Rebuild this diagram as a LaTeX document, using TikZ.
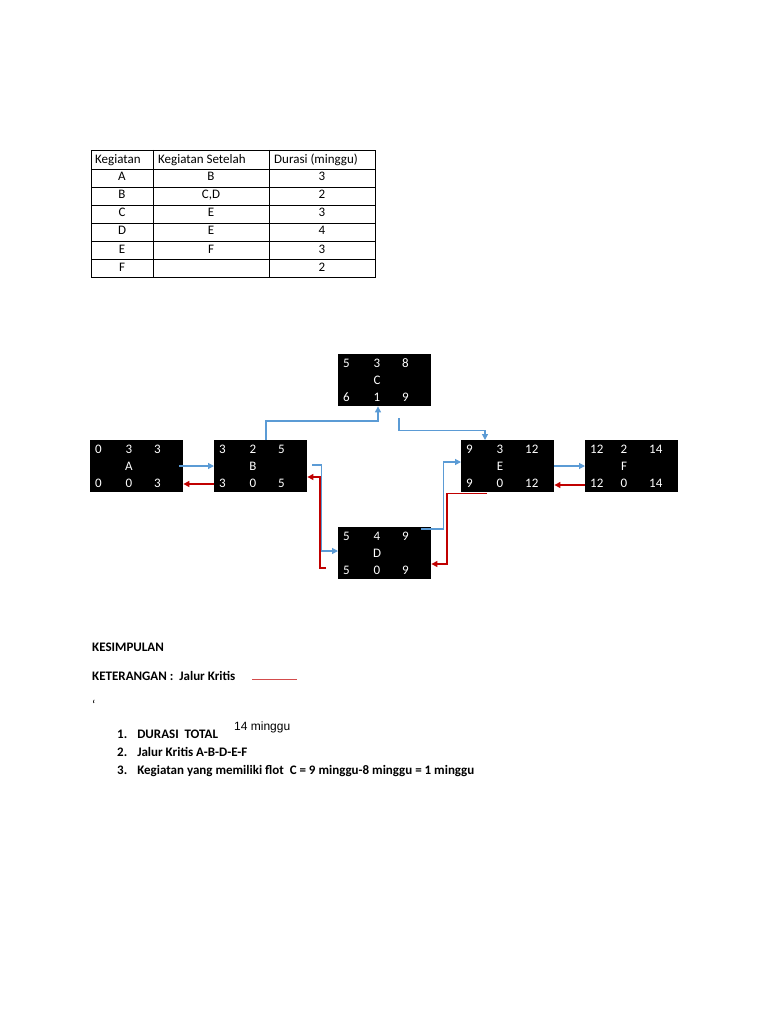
\documentclass[tikz,border=0pt]{standalone}
\usepackage{fontspec}
\setmainfont{Carlito}
\newfontfamily\arialf{Liberation Sans}
\usetikzlibrary{arrows.meta,calc}
\definecolor{bl}{RGB}{91,155,213}
\definecolor{rd}{RGB}{192,0,0}
\tikzset{box/.style={fill=black,minimum width=93pt,minimum height=52pt,inner sep=0pt,anchor=north west},
 val/.style={text=white,font=\fontsize{13}{15}\selectfont,inner sep=0pt},
 ba/.style={draw=bl,line width=1.2pt,-{Triangle[length=6pt,width=6pt]}},
 ra/.style={draw=rd,line width=1.2pt,-{Triangle[length=6pt,width=6pt]}},
 tt/.style={font=\fontsize{13}{15}\selectfont,inner sep=0pt},
 bt/.style={font=\bfseries\fontsize{13}{15}\selectfont,inner sep=0pt,anchor=west}}
\newcommand{\actbox}[9]{%
 \node[box] (#1) at (#2,#3) {};
 \node[val,anchor=west] at ($(#1.north west)+(5,9)$) {#4};
 \node[val] at ($(#1.north west)+(39,9)$) {#5};
 \node[val,anchor=west] at ($(#1.north west)+(64,9)$) {#6};
 \node[val] at ($(#1.north west)+(39,26)$) {#7};
 \node[val,anchor=west] at ($(#1.north west)+(5,43)$) {#8};
 \node[val] at ($(#1.north west)+(39,43)$) {#9};}
\newcommand{\lastv}[2]{\node[val,anchor=west] at ($(#1.north west)+(64,43)$) {#2};}
\begin{document}
\begin{tikzpicture}[x=1pt,y=-1pt]
\useasboundingbox (0,0) rectangle (768,1024);
% table
\draw[line width=0.6pt] (91,150) rectangle (375,277);
\foreach \y in {169,187,205,223,241,259} \draw[line width=0.6pt] (91,\y)--(375,\y);
\draw[line width=0.6pt] (153,150)--(153,277) (269,150)--(269,277);
\node[tt,anchor=west] (h1) at (95,160) {Kegiatan};
\node[tt,anchor=west] (h2) at (158,160) {Kegiatan Setelah};
\node[tt,anchor=west] (h3) at (274,160) {Durasi (minggu)};
\foreach \a/\b/\c [count=\i] in {A/B/3,B/{C,D}/2,C/E/3,D/E/4,E/F/3,F//2}{
 \node[tt] at (122,160+18*\i) {\strut\a};
 \node[tt] at (211,160+18*\i) {\strut\b};
 \node[tt] at (322,160+18*\i) {\strut\c};}
% boxes
\actbox{A}{90}{440}{0}{3}{3}{A}{0}{0}\lastv{A}{3}
\actbox{B}{214}{440}{3}{2}{5}{B}{3}{0}\lastv{B}{5}
\actbox{C}{338}{354}{5}{3}{8}{C}{6}{1}\lastv{C}{9}
\actbox{D}{338}{527}{5}{4}{9}{D}{5}{0}\lastv{D}{9}
\actbox{E}{461}{440}{9}{3}{12}{E}{9}{0}\lastv{E}{12}
\actbox{F}{585}{440}{12}{2}{14}{F}{12}{0}\lastv{F}{14}
% blue arrows
\draw[ba] ($(A.north east)+(-4,26)$) -- ($(B.north west)+(0,26)$);
\draw[ba] ($(B.north west)+(52,0)$) -- ++(0,-19) -| ($(C.south west)+(40,0)$);
\draw[ba] ($(C.south west)+(61,12)$) -- ++(0,12) -| ($(E.north west)+(24,0)$);
\draw[ba] ($(B.north east)+(5,25)$) -- ++(9,0) |- ($(D.north west)+(0,24)$);
\draw[ba] ($(D.north east)+(-10,2)$) -- ++(22,0) |- ($(E.north west)+(0,22)$);
\draw[ba] ($(E.north east)+(0,26)$) -- ($(F.north west)+(0,26)$);
% red arrows
\draw[ra] ($(F.north west)+(0,45)$) -- ($(E.north east)+(0,45)$);
\draw[ra] ($(B.north west)+(0,44)$) -- ($(A.north east)+(0,44)$);
\draw[ra] ($(E.south west)+(26,1)$) -- ++(-40,0) |- ($(D.north east)+(0,37)$);
\draw[ra] ($(D.north west)+(-12,41)$) -- ++(-6,0) |- ($(B.north east)+(0,37)$);
% text
\node[bt] (k) at (92,647) {KESIMPULAN};
\node[bt] (ket) at (92,676) {KETERANGAN :\ \ Jalur Kritis};
\coordinate (l1) at (252,679); \coordinate (l2) at (297,679);
\draw[rd!70,line width=1pt] (l1)--(l2);
\node[tt,anchor=west] (bq) at (92,705) {`};
\node[bt] (n1) at (117,734) {1.\hspace{10pt}DURASI\ \ TOTAL};
\node[anchor=west,inner sep=0pt,font=\arialf\fontsize{12}{14}\selectfont] (n1b) at (234,727) {14 minggu};
\node[bt] (n2) at (117,752) {2.\hspace{10pt}Jalur Kritis A-B-D-E-F};
\node[bt] (n3) at (117,771) {3.\hspace{10pt}Kegiatan yang memiliki flot\ \ C = 9 minggu-8 minggu = 1 minggu};
\end{tikzpicture}
\end{document}
